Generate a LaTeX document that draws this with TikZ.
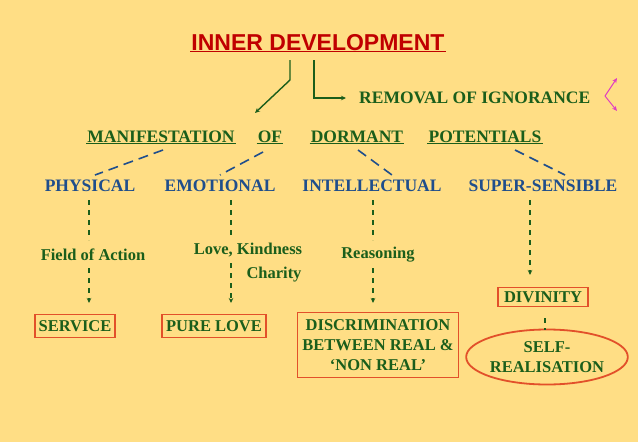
\documentclass[tikz,border=0pt]{standalone}
\usepackage{fontspec}
\setmainfont{Liberation Serif}
\newfontfamily\titlefont{Liberation Sans}
\usetikzlibrary{shapes.geometric,arrows.meta}
\definecolor{bg}{HTML}{FFDE85}
\definecolor{dgreen}{HTML}{1B5E1B}
\definecolor{dblue}{HTML}{1F4E8C}
\definecolor{tred}{HTML}{C00000}
\definecolor{boxred}{HTML}{E2502A}
\definecolor{mag}{HTML}{E040C0}
\begin{document}
\begin{tikzpicture}[x=1pt,y=-1pt,
  gtxt/.style={text=dgreen,font=\bfseries\fontsize{16.5}{18}\selectfont,inner sep=1pt},
  htxt/.style={text=dgreen,font=\bfseries\fontsize{17.5}{19}\selectfont,inner sep=1pt},
  btxt/.style={text=dblue,font=\bfseries\fontsize{17.5}{19}\selectfont,inner sep=1pt},
  rbox/.style={draw=boxred,line width=1.8pt,text=dgreen,font=\bfseries\fontsize{16.5}{20}\selectfont,align=center,inner xsep=4pt,inner ysep=6pt},
  gline/.style={draw=dgreen,line width=1.4pt},
  bdash/.style={draw=dblue,line width=1.6pt,dash pattern=on 10pt off 6pt},
  gdash/.style={draw=dgreen,line width=1.2pt,dash pattern=on 5pt off 5pt},
  tip/.style={-{Stealth[length=5pt,width=4.5pt]}}]
\fill[bg] (0,0) rectangle (638,442);
\node[text=tred,font=\titlefont\bfseries\fontsize{23}{25}\selectfont,inner sep=1pt] (title) at (318,43) {INNER DEVELOPMENT};
\draw[tred,line width=1.6pt] ([yshift=1pt]title.south west) -- ([yshift=1pt]title.south east);
\node[htxt,anchor=west] (rem) at (358,98) {REMOVAL OF IGNORANCE};
\coordinate (c1) at (290,80);
\coordinate (c2) at (314,98);
\coordinate (a1) at (255,113);
\draw[gline,tip] (290,60) -- (c1) -- (a1);
\draw[gline,tip] (314,60) -- (c2) -- ([xshift=-12pt]rem.west);
\coordinate (m) at (605,96);
\draw[mag,line width=1pt,tip] (m) -- (617,78);
\draw[mag,line width=1pt,tip] (m) -- (617,111);
\foreach \n/\x/\t in {man/161/MANIFESTATION,of/270/OF,dor/357/DORMANT,pot/485/POTENTIALS}{
  \node[htxt] (\n) at (\x,137) {\t};
  \draw[dgreen,line width=1pt] ([yshift=1pt]\n.south west) -- ([yshift=1pt]\n.south east);
}
\node[btxt] (phy) at (90,186) {PHYSICAL};
\node[btxt] (emo) at (220,186) {EMOTIONAL};
\node[btxt] (int) at (372,186) {INTELLECTUAL};
\node[btxt] (sup) at (543,186) {SUPER-SENSIBLE};
\draw[bdash] (163,150) -- (95,175);
\draw[bdash] (263,152) -- (220,175);
\draw[bdash] (358,150) -- (392,175);
\draw[bdash] (515,150) -- (565,175);
\node[gtxt] (foa) at (93,255) {Field of Action};
\node[gtxt] (lk) at (248,250) {Love, Kindness};
\node[gtxt] (ch) at (274,275) {Charity};
\node[gtxt] (rea) at (378,255) {Reasoning};
\node[rbox] (ser) at (75,326) {SERVICE};
\node[rbox] (pl) at (214,326) {PURE LOVE};
\node[rbox,minimum width=161pt,minimum height=65pt] (dis) at (378,345) {DISCRIMINATION\\BETWEEN REAL \&\\`NON REAL'};
\node[rbox,minimum width=90pt,inner ysep=4pt] (div) at (543,297) {DIVINITY};
\node[rbox,ellipse,minimum width=130pt,minimum height=55pt,inner sep=0pt] (self) at (547,357) {SELF-\\REALISATION};
\draw[gdash] (89,200) -- (89,240);
\draw[gdash,tip] (89,268) -- (89,303);
\draw[gdash] (231,200) -- (231,238);
\draw[gdash,tip] (231,263) -- (231,303);
\draw[gdash] (373,200) -- (373,240);
\draw[gdash,tip] (373,268) -- (373,303);
\draw[gdash,tip] (530,200) -- (530,275);
\draw[gdash] (545,318) -- (545,330);
\end{tikzpicture}
\end{document}
